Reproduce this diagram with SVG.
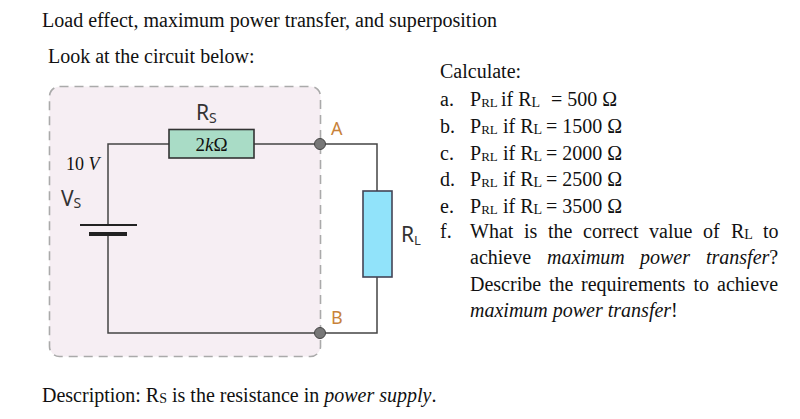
<svg xmlns="http://www.w3.org/2000/svg" width="800" height="419" viewBox="0 0 800 419">
<style>
.t{font-family:"Liberation Serif","Times New Roman",serif;font-size:20px;fill:#111}
.i{font-style:italic}
.sub{font-size:14px}
.ps{font-size:13px}
.s{font-family:"Noto Sans","Open Sans",sans-serif;fill:#333}
.lab{font-family:"Noto Sans","Open Sans",sans-serif;fill:#c8823a;font-size:18px}
.w{fill:none;stroke:#444;stroke-width:1.5}
</style>
<rect width="800" height="419" fill="#fff"/>
<g id="box">
<rect x="49.5" y="86.5" width="271" height="270" rx="10" fill="#f6eef3" stroke="#aaa" stroke-width="1.6" stroke-dasharray="9 6"/>
</g>
<g id="connectors">
<polyline class="w" points="169,144 108,144 108,225"/>
<polyline class="w" points="254,144 377,144 377,191"/>
<polyline class="w" points="108,234 108,333 377,333 377,277"/>
</g>
<g id="battery">
<line x1="80" y1="225" x2="137" y2="225" stroke="#222" stroke-width="2"/>
<line x1="89" y1="234" x2="127" y2="234" stroke="#222" stroke-width="4"/>
<text x="66" y="170" font-family="Liberation Serif" font-size="18" fill="#111">10 <tspan font-style="italic">V</tspan></text>
<text class="s" x="61" y="206" font-size="21">V<tspan font-size="14" dy="2">S</tspan></text>
</g>
<g id="rs">
<rect x="169" y="129.5" width="85" height="28.5" fill="#a9dcc6" stroke="#333" stroke-width="1.6"/>
<text x="211.5" y="151" text-anchor="middle" font-family="Liberation Serif" font-size="19" fill="#111">2<tspan font-style="italic">k</tspan>Ω</text>
<text class="s" x="196" y="120" font-size="21">R<tspan font-size="14" dy="3">S</tspan></text>
</g>
<g id="rl">
<rect x="363" y="191" width="29" height="86" fill="#91e3fa" stroke="#445" stroke-width="1.6"/>
<text class="s" x="401" y="242" font-size="21">R<tspan font-size="13" dy="3">L</tspan></text>
</g>
<g id="nodeA">
<circle cx="320" cy="144" r="5.5" fill="#777" stroke="#444" stroke-width="1"/>
<text class="lab" x="331" y="135">A</text>
</g>
<g id="nodeB">
<circle cx="320" cy="333" r="5.5" fill="#777" stroke="#444" stroke-width="1"/>
<text class="lab" x="331" y="324">B</text>
</g>
<g id="texts">
<text class="t" x="42" y="27" textLength="455" lengthAdjust="spacingAndGlyphs">Load effect, maximum power transfer, and superposition</text>
<text class="t" x="48" y="63">Look at the circuit below:</text>
<text class="t" x="440" y="78">Calculate:</text>

<text class="t" y="106"><tspan x="440">a.</tspan><tspan x="470">P<tspan class="ps" dy="1">RL</tspan></tspan><tspan x="501" dy="-1">if R<tspan class="sub" dy="1">L</tspan></tspan><tspan x="551" dy="-1">= 500 Ω</tspan></text>
<text class="t" y="133"><tspan x="440">b.</tspan><tspan x="470">P<tspan class="ps" dy="1">RL</tspan></tspan><tspan x="503" dy="-1">if R<tspan class="sub" dy="1">L</tspan></tspan><tspan x="546" dy="-1">= 1500 Ω</tspan></text>
<text class="t" y="160"><tspan x="440">c.</tspan><tspan x="470">P<tspan class="ps" dy="1">RL</tspan></tspan><tspan x="503" dy="-1">if R<tspan class="sub" dy="1">L</tspan></tspan><tspan x="546" dy="-1">= 2000 Ω</tspan></text>
<text class="t" y="186"><tspan x="440">d.</tspan><tspan x="470">P<tspan class="ps" dy="1">RL</tspan></tspan><tspan x="503" dy="-1">if R<tspan class="sub" dy="1">L</tspan></tspan><tspan x="546" dy="-1">= 2500 Ω</tspan></text>
<text class="t" y="213"><tspan x="440">e.</tspan><tspan x="470">P<tspan class="ps" dy="1">RL</tspan></tspan><tspan x="503" dy="-1">if R<tspan class="sub" dy="1">L</tspan></tspan><tspan x="546" dy="-1">= 3500 Ω</tspan></text>

<text class="t" y="238"><tspan x="440">f.</tspan><tspan x="470">What</tspan><tspan x="524">is</tspan><tspan x="548">the</tspan><tspan x="583">correct</tspan><tspan x="649">value</tspan><tspan x="703">of</tspan><tspan x="731">R<tspan class="sub" dy="1">L</tspan></tspan><tspan x="763" dy="-1">to</tspan></text>
<text class="t" y="264"><tspan x="470">achieve</tspan><tspan class="i" x="547">maximum</tspan><tspan class="i" x="640">power</tspan><tspan class="i" x="706">transfer</tspan><tspan>?</tspan></text>
<text class="t" y="291"><tspan x="470">Describe</tspan><tspan x="549">the</tspan><tspan x="581">requirements</tspan><tspan x="693.5">to</tspan><tspan x="717">achieve</tspan></text>
<text class="t" y="317"><tspan class="i" x="470">maximum power transfer</tspan><tspan>!</tspan></text>

<text class="t" x="42" y="402">Description: R<tspan class="sub" dy="1">S</tspan><tspan dy="-1"> is the resistance in </tspan><tspan class="i">power supply</tspan>.</text>
</g>
</svg>
